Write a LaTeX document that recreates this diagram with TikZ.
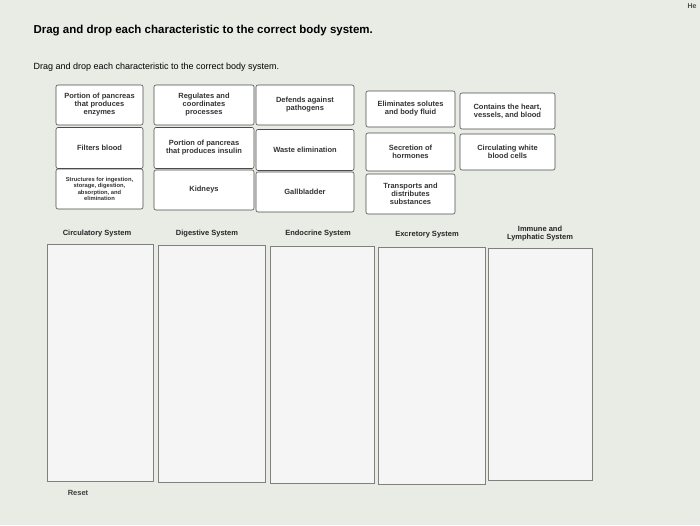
\documentclass[tikz,border=0pt]{standalone}
\usepackage{fontspec}
\setmainfont{Liberation Sans}
\definecolor{bgc}{RGB}{232,236,228}
\begin{document}
\begin{tikzpicture}[x=1pt,y=-1pt,
card/.style={draw=black!70,fill=white,rounded corners=2pt,line width=0.6pt,align=center,font=\fontsize{7.5}{8}\selectfont\bfseries,text=black!80,inner sep=1pt},
drop/.style={draw=black!50,fill=white!92!gray,line width=0.6pt},
hdr/.style={font=\fontsize{7.5}{8.5}\selectfont\bfseries,text=black!85,align=center}]
\fill[bgc] (0,0) rectangle (700,525);
\useasboundingbox (0,0) rectangle (700,525);
\node[anchor=west,font=\fontsize{11.5}{12}\selectfont\bfseries] (title) at (30,31) {Drag and drop each characteristic to the correct body system.};
\node[anchor=west,font=\fontsize{9}{10}\selectfont] (sub) at (30,67) {Drag and drop each characteristic to the correct body system.};
\node[anchor=east,font=\fontsize{7}{8}\selectfont\bfseries,text=black!70] (ha) at (700,6) {He};
% row 1
\node[card,minimum width=87,minimum height=40] (c11) at (99.5,105) {Portion of pancreas\\that produces\\enzymes};
\node[card,minimum width=100,minimum height=40] (c12) at (204,105) {Regulates and\\coordinates\\processes};
\node[card,minimum width=98,minimum height=40] (c13) at (305,105) {Defends against\\pathogens};
\node[card,minimum width=89,minimum height=36] (c14) at (410.5,109) {Eliminates solutes\\and body fluid};
\node[card,minimum width=95,minimum height=36] (c15) at (507.5,111) {Contains the heart,\\vessels, and blood};
% row 2
\node[card,minimum width=87,minimum height=41] (c21) at (99.5,148) {Filters blood};
\node[card,minimum width=100,minimum height=41] (c22) at (204,148) {Portion of pancreas\\that produces insulin};
\node[card,minimum width=98,minimum height=41] (c23) at (305,150) {Waste elimination};
\node[card,minimum width=89,minimum height=38] (c24) at (410.5,152) {Secretion of\\hormones};
\node[card,minimum width=95,minimum height=36] (c25) at (507.5,152) {Circulating white\\blood cells};
% row 3
\node[card,minimum width=87,minimum height=40,font=\fontsize{5.8}{6.2}\selectfont\bfseries] (c31) at (99.5,189) {Structures for ingestion,\\storage, digestion,\\absorption, and\\elimination};
\node[card,minimum width=100,minimum height=40] (c32) at (204,190) {Kidneys};
\node[card,minimum width=98,minimum height=40] (c33) at (305,192) {Gallbladder};
\node[card,minimum width=89,minimum height=40] (c34) at (410.5,194) {Transports and\\distributes\\substances};
% headers
\node[hdr] (h1) at (97,234) {Circulatory System};
\node[hdr] (h2) at (207,234) {Digestive System};
\node[hdr] (h3) at (318,234) {Endocrine System};
\node[hdr] (h4) at (427,235) {Excretory System};
\node[hdr,font=\fontsize{7.5}{8}\selectfont\bfseries] (h5) at (540,234) {Immune and\\Lymphatic System};
% drop zones
\node[drop,minimum width=106,minimum height=237] (d1) at (100,363) {};
\node[drop,minimum width=107,minimum height=237] (d2) at (211.5,364) {};
\node[drop,minimum width=104,minimum height=237] (d3) at (322,365) {};
\node[drop,minimum width=107,minimum height=237] (d4) at (431.5,366) {};
\node[drop,minimum width=104,minimum height=232] (d5) at (540,364) {};
\node[font=\fontsize{7.5}{8}\selectfont\bfseries,text=black!75] (reset) at (78,493) {Reset};
\end{tikzpicture}
\end{document}
